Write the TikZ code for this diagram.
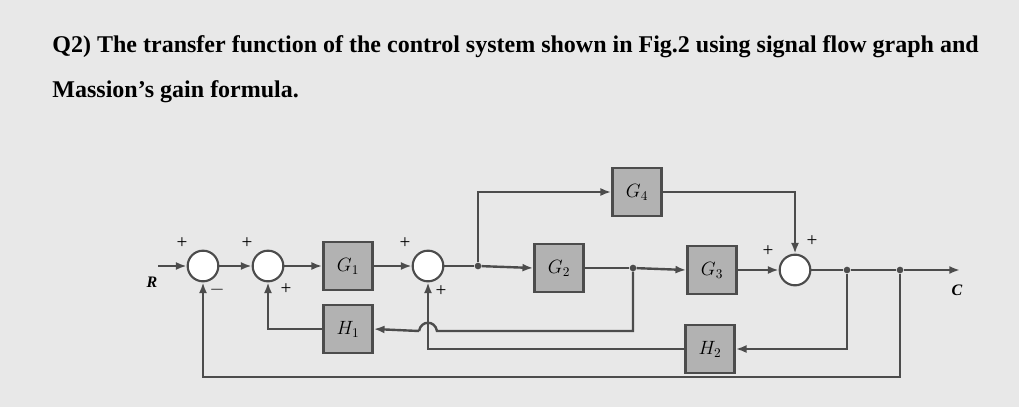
\documentclass[tikz,border=0pt]{standalone}
\usepackage{fontspec}
\setmainfont{Liberation Serif}
\usetikzlibrary{arrows.meta}
\begin{document}
\begin{tikzpicture}[x=0.75pt,y=-0.75pt,
  ln/.style={draw=black!70,line width=1.8pt},
  arr/.style={ln,-{Latex[length=8pt,width=6pt]}},
  blk/.style={draw=black!70,line width=1.8pt,fill=black!30,minimum width=37pt,minimum height=36pt,inner sep=0pt,font=\Large},
  sj/.style={circle,draw=black!70,line width=1.6pt,fill=white,minimum size=23pt,inner sep=0pt},
  dot/.style={circle,fill=black!70,inner sep=0pt,minimum size=5pt},
  sg/.style={font=\Large,inner sep=0pt}]
\fill[black!9] (0,0) rectangle (1019,407);
\useasboundingbox (0,0) rectangle (1019,407);
\node[anchor=base west,font=\bfseries,scale=1.8,inner sep=0pt] (t1) at (52,52) {Q2) The transfer function of the control system shown in Fig.2 using signal flow graph and};
\node[anchor=base west,font=\bfseries,scale=1.8,inner sep=0pt] (t2) at (52,97) {Massion’s gain formula.};
% nodes
\coordinate (rin) at (158,266);
\node[sj] (s1) at (203,266) {};
\node[sj] (s2) at (268,266) {};
\node[blk] (g1) at (348,266) {$G_1$};
\node[sj] (s3) at (428,266) {};
\node[dot] (d1) at (478,266) {};
\node[blk] (g2) at (559,268) {$G_2$};
\node[dot] (d2) at (633,268) {};
\node[blk] (g3) at (712,270) {$G_3$};
\node[sj] (s4) at (795,270) {};
\node[dot] (d3) at (847,270) {};
\node[dot] (d4) at (900,270) {};
\coordinate (cout) at (960,270);
\node[blk] (g4) at (637,192) {$G_4$};
\node[blk] (h1) at (348,329) {$H_1$};
\node[blk] (h2) at (710,349) {$H_2$};
\node[font=\bfseries\itshape\large] (R) at (152,282) {R};
\node[font=\bfseries\itshape\large] (C) at (957,290) {C};
% forward
\draw[arr] (rin) -- (s1.west);
\draw[arr] (s1.east) -- (s2.west);
\draw[arr] (s2.east) -- (g1.west);
\draw[arr] (g1.east) -- (s3.west);
\draw[ln] (s3.east) -- (d1);
\draw[arr] (d1) -- (g2.west);
\draw[ln] (g2.east) -- (d2);
\draw[arr] (d2) -- (g3.west);
\draw[arr] (g3.east) -- (s4.west);
\draw[ln] (s4.east) -- (d3) -- (d4);
\draw[arr] (d4) -- (cout);
% G4 path
\draw[arr] (d1) |- (g4.west);
\draw[arr] (g4.east) -| (s4.north);
% H1 loop
\draw[ln] (d2) |- (437,331) .. controls (435,320) and (421,320) .. (419,331);
\draw[arr] (419,331) -- (h1.east);
\draw[arr] (h1.west) -| (s2.south);
% H2 loop
\draw[arr] (d3) |- (h2.east);
\draw[arr] (h2.west) -| (s3.south);
% unity feedback
\draw[arr] (d4) |- (203,377) -- (s1.south);
% signs
\node[sg] (p1) at (182,243) {+};
\node[sg] (m1) at (217,290) {$-$};
\node[sg] (p2) at (247,243) {+};
\node[sg] (p3) at (286,289) {+};
\node[sg] (p4) at (405,243) {+};
\node[sg] (p5) at (441,291) {+};
\node[sg] (p6) at (768,251) {+};
\node[sg] (p7) at (812,241) {+};
\end{tikzpicture}
\end{document}
